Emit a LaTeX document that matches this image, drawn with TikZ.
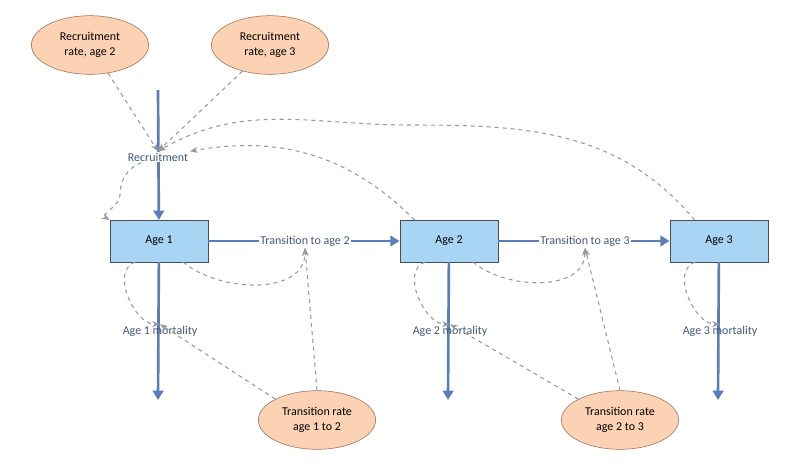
\documentclass[tikz,border=0pt]{standalone}
\usepackage{fontspec}
\setmainfont{Carlito}
\usetikzlibrary{shapes.geometric,arrows.meta}
\definecolor{flowblue}{HTML}{5B7DB8}
\definecolor{boxfill}{HTML}{A9D5F5}
\definecolor{varfill}{HTML}{FCD2B4}
\definecolor{varline}{HTML}{9A6A4A}
\definecolor{labtext}{HTML}{44587A}
\tikzset{
  stock/.style={draw=black!70,fill=boxfill,minimum width=2.6cm,minimum height=1.1cm,inner sep=0pt,font=\small},
  aux/.style={ellipse,draw=varline,fill=varfill,minimum width=3.1cm,minimum height=1.55cm,align=center,inner sep=0pt,font=\small},
  rate/.style={text=labtext,font=\small,inner sep=1pt},
  flow/.style={draw=flowblue,line width=2pt,-{Triangle[length=7pt,width=8pt]}},
  link/.style={draw=black!40,dashed,thick,-{Stealth[length=6pt]}}
}
\begin{document}
\begin{tikzpicture}[x=0.02645cm,y=-0.02645cm]
  \useasboundingbox (0,0) rectangle (800,470);
  \node[aux] (rr2) at (90,45) {Recruitment\\rate, age 2};
  \node[aux] (rr3) at (270,45) {Recruitment\\rate, age 3};
  \node[stock] (a1) at (159,241) {Age 1};
  \node[stock] (a2) at (449,241) {Age 2};
  \node[stock] (a3) at (719,241) {Age 3};
  \node[aux] (tr12) at (317,420) {Transition rate\\age 1 to 2};
  \node[aux] (tr23) at (620,420) {Transition rate\\age 2 to 3};
  \coordinate (src) at (158,90);
  \coordinate (sk1) at (158,400);
  \coordinate (sk2) at (448,400);
  \coordinate (sk3) at (718,400);
  % flows
  \draw[flow] (src) -- (a1);
  \draw[flow] (a1) -- (a2);
  \draw[flow] (a2) -- (a3);
  \draw[flow] (a1) -- (sk1);
  \draw[flow] (a2) -- (sk2);
  \draw[flow] (a3) -- (sk3);
  \node[rate,fill=white] (rec) at (158,157) {Recruitment};
  \node[rate,fill=white] (t2) at (305,241) {Transition to age 2};
  \node[rate,fill=white] (t3) at (585,241) {Transition to age 3};
  \node[rate] (m1) at (160,331) {Age 1 mortality};
  \node[rate] (m2) at (450,331) {Age 2 mortality};
  \node[rate] (m3) at (720,331) {Age 3 mortality};
  % links
  \draw[link] (rr2) -- (rec.north);
  \draw[link] (rr3) -- (rec.north);
  \draw[link] (a2.north west) ++(15,0) to[out=135,in=10] (rec.north east);
  \draw[link] (a3.north west) ++(25,0) to[out=130,in=0] (410,125) to[out=180,in=30] (rec.north);
  \draw[link] (rec.south west) ++(15,0) to[out=200,in=90] (120,195) to[out=270,in=150] (a1.north west);
  \draw[link] (135,262) to[out=200,in=180] (m1.north);
  \draw[link] (183,262) to[out=-40,in=270] (t2.south);
  \draw[link] (tr12.north) -- (t2.south);
  \draw[link] (tr12.north west) -- (m1.north);
  \draw[link] (425,262) to[out=200,in=180] (m2.north);
  \draw[link] (473,262) to[out=-40,in=270] (t3.south);
  \draw[link] (tr23.north) -- (t3.south);
  \draw[link] (tr23.north west) -- (m2.north);
  \draw[link] (695,262) to[out=200,in=180] (m3.north);
\end{tikzpicture}
\end{document}
